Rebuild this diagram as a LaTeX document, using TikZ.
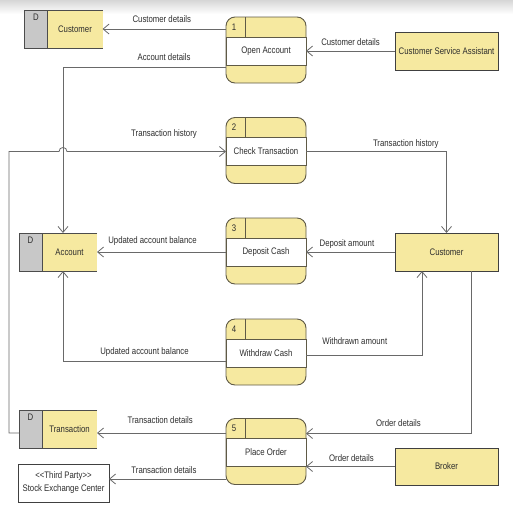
\documentclass[tikz,border=0pt]{standalone}
\usepackage{fontspec}
\setmainfont{Liberation Sans}[FakeStretch=0.82]
\usetikzlibrary{arrows.meta,positioning,backgrounds}

\definecolor{dfdyellow}{RGB}{246,233,160}
\definecolor{dfdgray}{RGB}{200,200,200}
\definecolor{dfdedge}{RGB}{95,90,70}
\definecolor{dfdline}{RGB}{105,105,105}
\definecolor{dfdtext}{RGB}{45,45,45}

\begin{document}
\begin{tikzpicture}[
		x=1pt, y=-1pt,
		every node/.style={font=\fontsize{9.5}{11}\selectfont, text=dfdtext},
		procmid/.style={draw=dfdedge, line width=.9pt, fill=white, minimum width=80pt, minimum height=28pt, inner sep=0pt, outer sep=0pt},
		procbox/.style={draw=dfdedge, line width=.9pt, fill=dfdyellow, rounded corners=9pt},
		entity/.style={draw=black!75, line width=.9pt, fill=dfdyellow, minimum width=103pt, minimum height=38pt, inner sep=0pt, outer sep=0pt},
		dstag/.style={fill=dfdgray, minimum width=23pt, minimum height=38pt, inner sep=0pt, outer sep=0pt},
		dsname/.style={fill=dfdyellow, minimum width=55pt, minimum height=38pt, inner sep=0pt, outer sep=0pt},
		dsline/.style={draw=black!70, line width=.9pt},
		flow/.style={draw=dfdline, line width=.8pt, -{Straight Barb[length=6pt,width=10pt,line width=.8pt]}},
		lbl/.style={inner sep=0pt, text height=6.5pt, text depth=2pt}
	]
	\useasboundingbox (0,0) rectangle (513,509);
	\shade[top color=black!16, bottom color=white] (0,0) rectangle (513,14);

	\foreach \n/\x/\y/\t in {Cust/36/29/Customer, Acc/30.5/252/Account, Trans/30.5/429/Transaction}
		{
		   \node[dstag] (tag\n) at (\x,\y) {};
		   \node[dsname, right=0pt of tag\n] (st\n) {\t};
		   \node (d\n) at ([yshift=-7pt]tag\n.north) {D};
		   \draw[dsline] (st\n.north east) -- (tag\n.north west) -- (tag\n.south west) -- (st\n.south east);
		   \draw[dsline] (tag\n.north east) -- (tag\n.south east);
		};
	\foreach \n/\y/\t in {1/51/Open Account, 2/151.5/Check Transaction, 3/252/Deposit Cash, 4/353/Withdraw Cash, 5/452.5/Place Order}
		{
		   \node[procmid] (p\n) at (266,\y) {\t};
		   \begin{scope}[on background layer]
		      \draw[procbox] ([yshift=20pt]p\n.north west) rectangle ([yshift=-18pt]p\n.south east);
		   \end{scope}
		   \draw[draw=dfdedge, line width=.9pt] ([xshift=19pt]p\n.north west) -- ++(0,-20);
		   \node (n\n) at ([xshift=8pt,yshift=10pt]p\n.north west) {\n};
		};

	\node[entity] (csa) at (446.5,51) {Customer Service Assistant};
	\node[entity] (cust) at (446.5,252) {Customer};
	\node[entity, minimum height=37pt] (broker) at (446.5,466.5) {Broker};
	\node[entity, fill=white, minimum width=91pt, align=center, font=\fontsize{9.5}{13}\selectfont] (stock) at (63.5,483) {<{}<Third Party>{}>\\Stock Exchange Center};

	\coordinate (p1b) at ([yshift=-16pt]p1.west);
	\coordinate (accTop) at ([xshift=-6.5pt]stAcc.north);
	\coordinate (accBot) at ([xshift=-6.5pt]stAcc.south);
	\coordinate (hop) at (accTop |- p2.west);
	\coordinate (p4a) at ([yshift=-8pt]p4.west);
	\coordinate (p4b) at ([yshift=-2pt]p4.east);
	\coordinate (custIn) at ([xshift=-24.5pt]cust.south);
	\coordinate (custOut) at ([xshift=24.5pt]cust.south);
	\coordinate (p5a) at ([yshift=19.5pt]p5.west);
	\coordinate (p5c) at ([yshift=19pt]p5.east);
	\coordinate (p5d) at ([yshift=-26.5pt]p5.west);

	\draw[flow] (p1.west |- stCust.east) -- node[lbl, above=3.7pt, pos=.52] (l1) {Customer details} (stCust.east);
	\draw[flow] (p1b) -| node[lbl, above=3.7pt, pos=.19] (l2) {Account details} (accTop);
	\draw[flow] (csa.west) -- node[lbl, above=2.7pt] (l3) {Customer details} (p1.east);
	\draw[flow] (tagTrans.west |- p5a) -- ++(-10,0) |- ([xshift=-4pt]hop)
		.. controls ([xshift=-4pt,yshift=5.3pt]hop) and ([xshift=4pt,yshift=5.3pt]hop) .. ([xshift=4pt]hop)
		-- node[lbl, above=12.7pt, pos=.61] (l4) {Transaction history} (p2.west);
	\draw[flow] (p2.east) -| node[lbl, above=2.7pt, pos=.355] (l5) {Transaction history} (cust.north);
	\draw[flow] (p3.west) -- node[lbl, above=5.7pt, pos=.57] (l6) {Updated account balance} (stAcc.east);
	\draw[flow] (cust.west) -- node[lbl, above=2.7pt, pos=.54] (l7) {Deposit amount} (p3.east);
	\draw[flow] (p4a) -| node[lbl, above=3.7pt, pos=.25] (l8) {Updated account balance} (accBot);
	\draw[flow] (p4b) -| node[lbl, above=7.7pt, pos=.21] (l9) {Withdrawn amount} (custIn);
	\draw[flow] (custOut) |- node[lbl, above=4.7pt, pos=.72] (l10) {Order details} (p5c);
	\draw[flow] (p5a) -- node[lbl, above=6.7pt, pos=.51] (l11) {Transaction details} (p5a -| stTrans.east);
	\draw[flow] (broker.west) -- node[lbl, above=2.7pt, pos=.49] (l12) {Order details} (p5.east |- broker.west);
	\draw[flow] (p5d) -- node[lbl, above=2.7pt, pos=.53] (l13) {Transaction details} (p5d -| stock.east);
	\end{tikzpicture}
\end{document}
